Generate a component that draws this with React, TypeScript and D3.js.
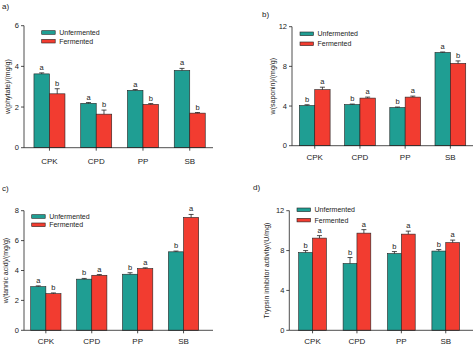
import React from "react";
import * as d3 from "d3";

const categories = ["CPK", "CPD", "PP", "SB"];
const seriesNames = ["Unfermented", "Fermented"];

const phytateU = [3.63, 2.18, 2.82, 3.8];
const phytateF = [2.65, 1.65, 2.13, 1.7];
const phytateErrU = [0.05, 0.04, 0.04, 0.1];
const phytateErrF = [0.25, 0.2, 0.04, 0.03];
const phytateLetU = ["a", "a", "a", "a"];
const phytateLetF = ["b", "b", "b", "b"];
const phytateTicks = [0, 2, 4, 6];

const saponinU = [4.05, 4.15, 3.85, 9.4];
const saponinF = [5.65, 4.8, 4.9, 8.3];
const saponinErrU = [0.08, 0.05, 0.05, 0.05];
const saponinErrF = [0.25, 0.1, 0.1, 0.25];
const saponinLetU = ["b", "b", "b", "a"];
const saponinLetF = ["a", "a", "a", "b"];
const saponinTicks = [0, 4, 8, 12];

const tanninU = [2.92, 3.42, 3.75, 5.25];
const tanninF = [2.45, 3.68, 4.13, 7.55];
const tanninErrU = [0.05, 0.05, 0.1, 0.05];
const tanninErrF = [0.05, 0.05, 0.05, 0.2];
const tanninLetU = ["a", "b", "b", "b"];
const tanninLetF = ["b", "a", "a", "a"];
const tanninTicks = [0, 2, 4, 6, 8];

const trypsinU = [7.8, 6.7, 7.7, 7.95];
const trypsinF = [9.25, 9.75, 9.65, 8.8];
const trypsinErrU = [0.2, 0.6, 0.2, 0.15];
const trypsinErrF = [0.25, 0.35, 0.3, 0.25];
const trypsinLetU = ["b", "b", "b", "b"];
const trypsinLetF = ["a", "a", "a", "a"];
const trypsinTicks = [0, 4, 8, 12];

const COLORS = ["#1f9e93", "#f23c30"];
const FONT = "Liberation Sans, Arial, sans-serif";

type PanelProps = {
  tag: string;
  tagX: number;
  tagY: number;
  yLabel: string;
  yLabelX: number;
  u: number[];
  f: number[];
  eu: number[];
  ef: number[];
  lu: string[];
  lf: string[];
  ticks: number[];
  axisX: number;
  axisEnd: number;
  bandStart: number;
  bandEnd: number;
  pad: number;
  yTop: number;
  yBottom: number;
  catY: number;
  legX: number;
  legY: number;
  legGap: number;
};

function Panel(p: PanelProps) {
  const max = p.ticks[p.ticks.length - 1];
  const y = d3.scaleLinear().domain([0, max]).range([p.yBottom, p.yTop]);
  const x = d3
    .scaleBand<string>()
    .domain(categories)
    .range([p.bandStart, p.bandEnd])
    .paddingInner(p.pad)
    .paddingOuter(p.pad);
  const inner = d3
    .scaleBand<string>()
    .domain(seriesNames)
    .range([0, x.bandwidth()]);
  const series = [
    { vals: p.u, errs: p.eu, lets: p.lu },
    { vals: p.f, errs: p.ef, lets: p.lf },
  ];
  const midY = (p.yTop + p.yBottom) / 2;
  return (
    <g fontFamily={FONT}>
      <text x={p.tagX} y={p.tagY} fontSize={8} fill="#222">
        {p.tag}
      </text>
      {series.map((s, si) =>
        categories.map((c, ci) => {
          const bx = (x(c) as number) + (inner(seriesNames[si]) as number);
          const bw = inner.bandwidth();
          const v = s.vals[ci];
          const top = y(v);
          const eTop = y(v + s.errs[ci]);
          const cx = bx + bw / 2;
          return (
            <g key={`${si}-${ci}`}>
              <rect
                x={bx}
                y={top}
                width={bw}
                height={p.yBottom - top}
                fill={COLORS[si]}
                stroke="#222"
                strokeWidth={0.6}
              />
              <line x1={cx} x2={cx} y1={top} y2={eTop} stroke="#222" strokeWidth={0.8} />
              <line x1={cx - 2.5} x2={cx + 2.5} y1={eTop} y2={eTop} stroke="#222" strokeWidth={0.8} />
              <text
                x={cx}
                y={eTop - 3}
                textAnchor="middle"
                fontSize={7.5}
                fill="#222"
              >
                {s.lets[ci]}
              </text>
            </g>
          );
        })
      )}
      <line x1={p.axisX} x2={p.axisX} y1={p.yTop} y2={p.yBottom} stroke="#222" strokeWidth={0.8} />
      <line x1={p.axisX} x2={p.axisEnd} y1={p.yBottom} y2={p.yBottom} stroke="#222" strokeWidth={0.8} />
      {p.ticks.map((t) => (
        <g key={t}>
          <line x1={p.axisX - 3} x2={p.axisX} y1={y(t)} y2={y(t)} stroke="#222" strokeWidth={0.8} />
          <text
            x={p.axisX - 5}
            y={y(t) + 2.7}
            textAnchor="end"
            fontSize={7.5}
            fill="#222"
          >
            {t}
          </text>
        </g>
      ))}
      {categories.map((c) => (
        <g key={c}>
          <line
            x1={(x(c) as number) + x.bandwidth() / 2}
            x2={(x(c) as number) + x.bandwidth() / 2}
            y1={p.yBottom}
            y2={p.yBottom + 3}
            stroke="#222"
            strokeWidth={0.8}
          />
          <text
            x={(x(c) as number) + x.bandwidth() / 2}
            y={p.catY}
            textAnchor="middle"
            fontSize={8}
            fill="#222"
          >
            {c}
          </text>
        </g>
      ))}
      <text
        transform={`translate(${p.yLabelX},${midY}) rotate(-90)`}
        textAnchor="middle"
        fontSize={7}
        fill="#222"
      >
        {p.yLabel}
      </text>
      {seriesNames.map((n, i) => (
        <g key={n}>
          <rect
            x={p.legX}
            y={p.legY + i * p.legGap}
            width={13.5}
            height={3.6}
            fill={COLORS[i]}
            stroke="#222"
            strokeWidth={0.6}
          />
          <text
            x={p.legX + 17.5}
            y={p.legY + i * p.legGap + 4.3}
            fontSize={7}
            fill="#222"
          >
            {n}
          </text>
        </g>
      ))}
    </g>
  );
}

export default function App() {
  return (
    <svg width={474} height={345} style={{ position: "absolute", left: 0, top: 0, background: "#fff" }}>
      <Panel
        tag="a)" tagX={2} tagY={9}
        yLabel="w(phytate)/(mg/g)" yLabelX={10}
        u={phytateU} f={phytateF} eu={phytateErrU} ef={phytateErrF}
        lu={phytateLetU} lf={phytateLetF} ticks={phytateTicks}
        axisX={24} axisEnd={213} bandStart={18.2} bandEnd={221} pad={0.337}
        yTop={25.7} yBottom={147.7} catY={163.5}
        legX={41.7} legY={30.7} legGap={8.7}
      />
      <Panel
        tag="b)" tagX={262} tagY={17}
        yLabel="w(saponin)/(mg/g)" yLabelX={275}
        u={saponinU} f={saponinF} eu={saponinErrU} ef={saponinErrF}
        lu={saponinLetU} lf={saponinLetF} ticks={saponinTicks}
        axisX={292} axisEnd={473} bandStart={284.9} bandEnd={480.2} pad={0.32}
        yTop={26.7} yBottom={145.7} catY={159.5}
        legX={300} legY={32} legGap={10}
      />
      <Panel
        tag="c)" tagX={2} tagY={191}
        yLabel="w(tannic acid)/(mg/g)" yLabelX={8}
        u={tanninU} f={tanninF} eu={tanninErrU} ef={tanninErrF}
        lu={tanninLetU} lf={tanninLetF} ticks={tanninTicks}
        axisX={24} axisEnd={213} bandStart={15.1} bandEnd={214.3} pad={0.34}
        yTop={210.7} yBottom={330.3} catY={343.5}
        legX={31.7} legY={214.7} legGap={8.3}
      />
      <Panel
        tag="d)" tagX={253} tagY={190}
        yLabel="Trypsin inhibitor activity/(U/mg)" yLabelX={269}
        u={trypsinU} f={trypsinF} eu={trypsinErrU} ef={trypsinErrF}
        lu={trypsinLetU} lf={trypsinLetF} ticks={trypsinTicks}
        axisX={289.3} axisEnd={473} bandStart={282} bandEnd={476.3} pad={0.376}
        yTop={210.7} yBottom={330.3} catY={343.5}
        legX={297} legY={208} legGap={10.3}
      />
    </svg>
  );
}
